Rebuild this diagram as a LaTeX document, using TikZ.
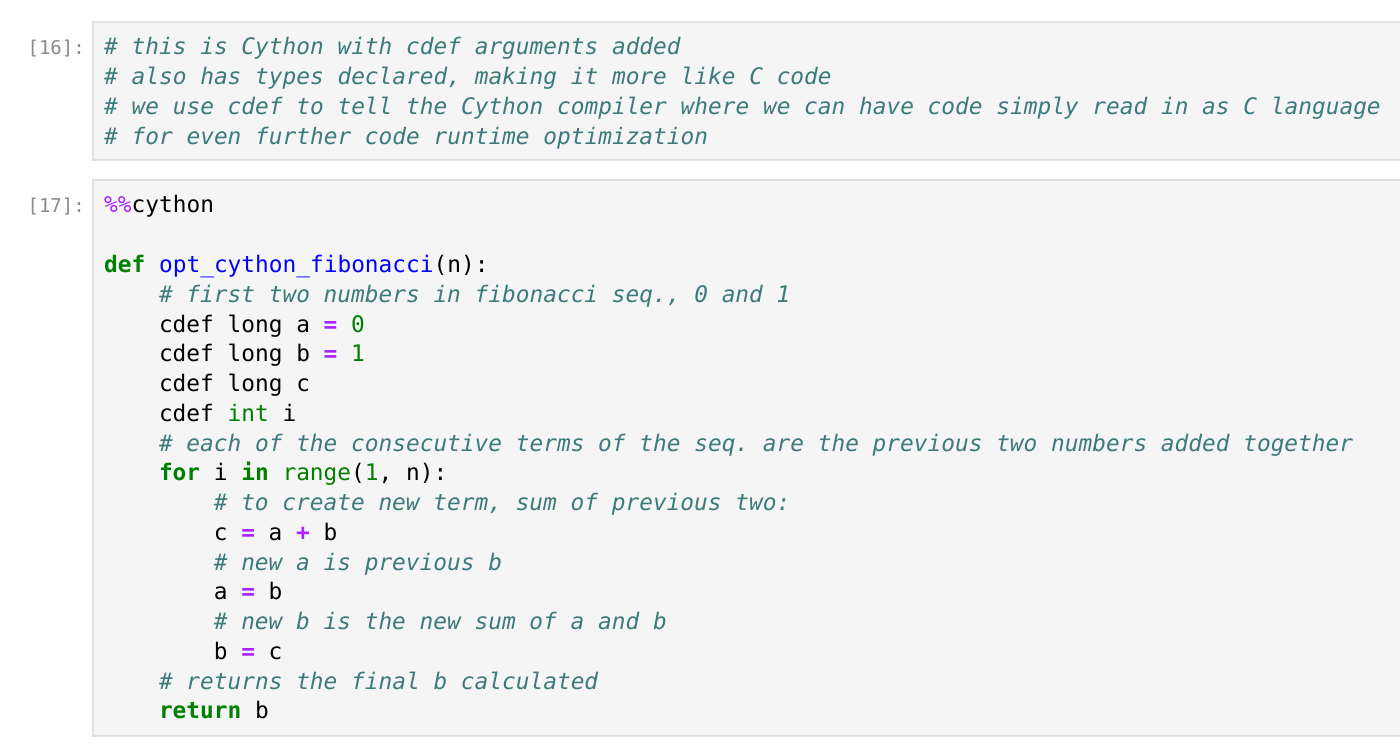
\documentclass[tikz,border=0pt]{standalone}
\usepackage{fontspec}
\setmonofont{DejaVu Sans Mono}
\definecolor{cmt}{HTML}{3D7B7B}
\definecolor{kwc}{HTML}{008000}
\definecolor{opc}{HTML}{AA22FF}
\definecolor{fnc}{HTML}{0000FF}
\definecolor{bgc}{HTML}{F5F5F5}
\definecolor{bdc}{HTML}{E0E0E0}
\definecolor{prc}{HTML}{8A8A8A}
\newcommand{\cm}[1]{{\color{cmt}\itshape #1}}
\newcommand{\kw}[1]{{\color{kwc}\bfseries #1}}
\newcommand{\bi}[1]{{\color{kwc}#1}}
\newcommand{\op}[1]{{\color{opc}\bfseries #1}}
\newcommand{\fn}[1]{{\color{fnc}#1}}
\begin{document}
\begin{tikzpicture}[x=1pt,y=-1pt,
  code/.style={anchor=base west,inner sep=0pt,font=\ttfamily\fontsize{22.8}{27}\selectfont},
  prompt/.style={anchor=base east,inner sep=0pt,text=prc,font=\ttfamily\fontsize{19}{24}\selectfont},
  cell/.style={draw=bdc,fill=bgc,line width=1.2pt}]
\useasboundingbox[fill=white] (0,0) rectangle (1400,751);
\draw[cell] (93,22) rectangle (1401,160);
\draw[cell] (93,180) rectangle (1401,736);
\node[prompt] (p1) at (85,55) {[16]:};
\node[prompt] (p2) at (85,213) {[17]:};
\def\L{29.75}
\node[code] (a1) at (104,55) {\cm{\# this is Cython with cdef arguments added}};
\node[code] (a2) at (104,55+\L) {\cm{\# also has types declared, making it more like C code}};
\node[code] (a3) at (104,55+2*\L) {\cm{\# we use cdef to tell the Cython compiler where we can have code simply read in as C language}};
\node[code] (a4) at (104,55+3*\L) {\cm{\# for even further code runtime optimization}};
\def\Y{213}
\def\I{54.8}
\node[code] (b1) at (104,\Y) {{\color{opc}\%\%}cython};
\node[code] (b2) at (104,\Y+2*\L) {\kw{def} \fn{opt\_cython\_fibonacci}(n):};
\node[code] (b3) at (104+\I,\Y+3*\L) {\cm{\# first two numbers in fibonacci seq., 0 and 1}};
\node[code] (b4) at (104+\I,\Y+4*\L) {cdef long a \op{=} \bi{0}};
\node[code] (b5) at (104+\I,\Y+5*\L) {cdef long b \op{=} \bi{1}};
\node[code] (b6) at (104+\I,\Y+6*\L) {cdef long c};
\node[code] (b7) at (104+\I,\Y+7*\L) {cdef \bi{int} i};
\node[code] (b8) at (104+\I,\Y+8*\L) {\cm{\# each of the consecutive terms of the seq. are the previous two numbers added together}};
\node[code] (b9) at (104+\I,\Y+9*\L) {\kw{for} i \kw{in} \bi{range}(\bi{1}, n):};
\node[code] (b10) at (104+2*\I,\Y+10*\L) {\cm{\# to create new term, sum of previous two:}};
\node[code] (b11) at (104+2*\I,\Y+11*\L) {c \op{=} a \op{+} b};
\node[code] (b12) at (104+2*\I,\Y+12*\L) {\cm{\# new a is previous b}};
\node[code] (b13) at (104+2*\I,\Y+13*\L) {a \op{=} b};
\node[code] (b14) at (104+2*\I,\Y+14*\L) {\cm{\# new b is the new sum of a and b}};
\node[code] (b15) at (104+2*\I,\Y+15*\L) {b \op{=} c};
\node[code] (b16) at (104+\I,\Y+16*\L) {\cm{\# returns the final b calculated}};
\node[code] (b17) at (104+\I,\Y+17*\L) {\kw{return} b};
\end{tikzpicture}
\end{document}
